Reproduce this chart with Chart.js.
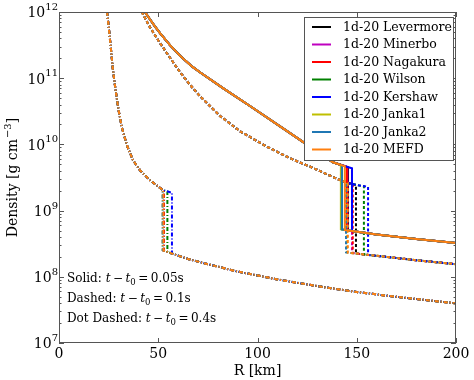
<!DOCTYPE html>
<html><head><meta charset="utf-8">
<script src="https://cdn.jsdelivr.net/npm/chart.js@4.4.1/dist/chart.umd.min.js"></script>
<style>html,body{margin:0;padding:0;background:#fff;}canvas{display:block;}</style>
</head><body>
<canvas id="c" width="474" height="380"></canvas>
<script>
// ---- data ----
const models = ['1d-20 Levermore','1d-20 Minerbo','1d-20 Nagakura','1d-20 Wilson','1d-20 Kershaw','1d-20 Janka1','1d-20 Janka2','1d-20 MEFD'];

// t - t0 = 0.05 s (solid)
const solidR   = [43.3, 45.8, 48.4, 50.9, 53.4, 55.9, 58.4, 61.0, 63.5, 67.3, 71.0, 82.6, 96.2, 116.4, 138.0, 144.1, 147.6];
const solidRho = [1.00e12, 7.76e11, 6.03e11, 4.79e11, 3.89e11, 3.16e11, 2.63e11, 2.19e11, 1.86e11, 1.48e11, 1.23e11, 7.08e10, 3.80e10, 1.48e10, 5.37e9, 4.68e9, 4.37e9];
const solidTailR   = [142.0, 147.6, 160, 180, 200];
const solidTailRho = [5.25e8, 4.90e8, 4.37e8, 3.72e8, 3.24e8];
const solidDropR      = [145.6, 145.3, 145.0, 142.5, 147.6, 142.0, 142.5, 144.0];
const solidDropTop    = [4.52e9, 4.55e9, 4.57e9, 4.84e9, 4.37e9, 4.90e9, 4.84e9, 4.68e9];
const solidDropBottom = [4.95e8, 4.98e8, 5.00e8, 5.20e8, 4.90e8, 5.25e8, 5.20e8, 5.07e8];

// t - t0 = 0.1 s (dashed)
const dashR   = [41.7, 45.8, 50.9, 55.9, 61.0, 66.0, 71.0, 81.1, 91.2, 103.8, 116.4, 129.0, 141.6, 147.6, 155.2];
const dashRho = [1.00e12, 5.89e11, 3.39e11, 2.04e11, 1.23e11, 7.94e10, 5.37e10, 2.69e10, 1.58e10, 9.55e9, 6.17e9, 4.27e9, 2.88e9, 2.51e9, 2.29e9];
const dashTailR   = [144.6, 150, 156, 165, 180, 200];
const dashTailRho = [2.34e8, 2.24e8, 2.14e8, 2.00e8, 1.78e8, 1.55e8];
const dashDropR      = [149.6, 147.6, 148.0, 153.6, 155.7, 145.0, 144.6, 145.5];
const dashDropTop    = [2.45e9, 2.51e9, 2.51e9, 2.34e9, 2.29e9, 2.69e9, 2.69e9, 2.63e9];
const dashDropBottom = [2.24e8, 2.29e8, 2.28e8, 2.19e8, 2.14e8, 2.33e8, 2.34e8, 2.32e8];

// t - t0 = 0.4 s (dot dashed)
const dotR   = [24.2, 25.2, 26.2, 27.2, 28.5, 30.0, 31.7, 34.3, 37.3, 40.8, 45.8, 52.4, 56.9];
const dotRho = [1.00e12, 5.37e11, 2.69e11, 1.32e11, 6.61e10, 3.31e10, 1.78e10, 9.55e9, 5.75e9, 4.07e9, 2.88e9, 2.04e9, 1.86e9];
const dotTailR   = [52.4, 57, 65, 75, 90, 110, 130, 150, 175, 200];
const dotTailRho = [2.51e8, 2.24e8, 1.86e8, 1.55e8, 1.20e8, 9.12e7, 7.24e7, 5.89e7, 4.79e7, 3.98e7];
const dotDropR      = [52.8, 52.6, 52.8, 54.6, 56.9, 52.2, 52.2, 52.6];
const dotDropTop    = [2.02e9, 2.03e9, 2.02e9, 1.95e9, 1.86e9, 2.05e9, 2.05e9, 2.03e9];
const dotDropBottom = [2.48e8, 2.50e8, 2.48e8, 2.36e8, 2.24e8, 2.53e8, 2.53e8, 2.50e8];

// axes
const xTicks = [0, 50, 100, 150, 200];
const xTickLabels = ['0', '50', '100', '150', '200'];
const yTickExps = [7, 8, 9, 10, 11, 12];
const yTickLabels = ['7', '8', '9', '10', '11', '12'];

// ---- styles ----
const colors = ['#000000', '#bf00bf', '#ff0000', '#008000', '#0000ff', '#bfbf00', '#1f77b4', '#ff7f0e'];
const dashes = [[], [3, 2.2], [4, 2, 1, 2]];
const FONT = "'DejaVu Serif', 'Liberation Serif', serif";

function buildSeries(R, rho, dR, top, bottom, tailR, tailRho) {
  const pts = [];
  for (let i = 0; i < R.length; i++) if (R[i] < dR) pts.push({x: R[i], y: rho[i]});
  pts.push({x: dR, y: top});
  pts.push({x: dR, y: bottom});
  for (let i = 0; i < tailR.length; i++) if (tailR[i] > dR) pts.push({x: tailR[i], y: tailRho[i]});
  return pts;
}

const datasets = [];
models.forEach((m, i) => {
  const series = [
    buildSeries(solidR, solidRho, solidDropR[i], solidDropTop[i], solidDropBottom[i], solidTailR, solidTailRho),
    buildSeries(dashR, dashRho, dashDropR[i], dashDropTop[i], dashDropBottom[i], dashTailR, dashTailRho),
    buildSeries(dotR, dotRho, dotDropR[i], dotDropTop[i], dotDropBottom[i], dotTailR, dotTailRho)
  ];
  series.forEach((pts, t) => {
    datasets.push({
      label: m + (t === 0 ? '' : t === 1 ? ' (0.1s)' : ' (0.4s)'),
      data: pts,
      borderColor: colors[i],
      backgroundColor: colors[i],
      borderWidth: 2,
      borderDash: dashes[t],
      pointRadius: 0,
      tension: 0,
      fill: false,
      order: (models.length - 1 - i) * 3 + t
    });
  });
});

function drawMath(ctx, x, y, parts) {
  let cx = x;
  parts.forEach(p => {
    ctx.font = p.f;
    ctx.fillText(p.t, cx, y + (p.dy || 0));
    cx += ctx.measureText(p.t).width + (p.sp || 0);
  });
}

const deco = {
  id: 'deco',
  afterDatasetsDraw(chart) {
    const {ctx, chartArea: a, scales: {x, y}} = chart;
    ctx.save();
    ctx.strokeStyle = '#555';
    ctx.lineWidth = 1;
    // spines
    ctx.strokeRect(a.left + 0.5, a.top + 0.5, a.right - a.left - 1, a.bottom - a.top - 1);
    // x ticks
    ctx.beginPath();
    xTicks.forEach(v => {
      const px = Math.round(x.getPixelForValue(v)) + 0.5;
      ctx.moveTo(px, a.bottom); ctx.lineTo(px, a.bottom - 5);
      ctx.moveTo(px, a.top); ctx.lineTo(px, a.top + 5);
    });
    // y ticks major/minor
    yTickExps.forEach((e, k) => {
      const py = Math.round(y.getPixelForValue(Math.pow(10, e))) + 0.5;
      ctx.moveTo(a.left, py); ctx.lineTo(a.left + 5, py);
      ctx.moveTo(a.right, py); ctx.lineTo(a.right - 5, py);
      if (k < yTickExps.length - 1) {
        for (let m = 2; m <= 9; m++) {
          const pm = Math.round(y.getPixelForValue(m * Math.pow(10, e))) + 0.5;
          ctx.moveTo(a.left, pm); ctx.lineTo(a.left + 2.5, pm);
          ctx.moveTo(a.right, pm); ctx.lineTo(a.right - 2.5, pm);
        }
      }
    });
    ctx.stroke();

    ctx.fillStyle = '#000';
    // x tick labels
    ctx.font = '14px ' + FONT;
    ctx.textAlign = 'center';
    ctx.textBaseline = 'alphabetic';
    xTicks.forEach((v, k) => ctx.fillText(xTickLabels[k], x.getPixelForValue(v), a.bottom + 14.5));
    // y tick labels 10^n
    ctx.textAlign = 'left';
    yTickExps.forEach((e, k) => {
      const py = y.getPixelForValue(Math.pow(10, e));
      ctx.font = '10px ' + FONT;
      const we = ctx.measureText(yTickLabels[k]).width;
      ctx.font = '14px ' + FONT;
      const wb = ctx.measureText('10').width;
      const x0 = a.left - 1 - we - wb;
      ctx.fillText('10', x0, py + 5.3);
      ctx.font = '10px ' + FONT;
      ctx.fillText(yTickLabels[k], x0 + wb, py - 2);
    });
    // axis titles
    ctx.font = '14px ' + FONT;
    ctx.textAlign = 'center';
    ctx.fillText('R [km]', (a.left + a.right) / 2, 375);
    ctx.save();
    ctx.translate(17, (a.top + a.bottom) / 2);
    ctx.rotate(-Math.PI / 2);
    ctx.textAlign = 'left';
    const t1 = 'Density [g cm', t3 = ']';
    ctx.font = '10px ' + FONT;
    const w2 = ctx.measureText('\u22123').width;
    ctx.font = '14px ' + FONT;
    const w1 = ctx.measureText(t1).width, w3 = ctx.measureText(t3).width;
    let sx = -(w1 + w2 + w3 + 1) / 2;
    ctx.fillText(t1, sx, 0);
    ctx.font = '10px ' + FONT;
    ctx.fillText('\u22123', sx + w1 + 1, -6);
    ctx.font = '14px ' + FONT;
    ctx.fillText(t3, sx + w1 + 1 + w2, 0);
    ctx.restore();

    // annotations
    const reg = '12px ' + FONT, it = 'italic 12px ' + FONT, sub = '8.5px ' + FONT;
    const notes = [['Solid: ', '0.05'], ['Dashed: ', '0.1'], ['Dot Dashed: ', '0.4']];
    const baseY = [282, 302, 322];
    ctx.textAlign = 'left';
    notes.forEach((n, k) => {
      drawMath(ctx, 67, baseY[k], [
        {t: n[0], f: reg}, {t: 't', f: it, sp: 2.5}, {t: '\u2212', f: reg, sp: 2.5},
        {t: 't', f: it}, {t: '0', f: sub, dy: 3, sp: 2.5}, {t: '=', f: reg, sp: 2.5},
        {t: n[1], f: reg}, {t: 's', f: reg}
      ]);
    });

    // legend
    const lx = 304, ly = 17, lw = 149, lh = 143;
    ctx.fillStyle = '#fff';
    ctx.fillRect(lx, ly, lw, lh);
    ctx.strokeStyle = '#555';
    ctx.lineWidth = 1;
    ctx.strokeRect(lx + 0.5, ly + 0.5, lw, lh);
    ctx.font = '12.5px ' + FONT;
    ctx.textBaseline = 'middle';
    models.forEach((m, i) => {
      const yy = 27 + 17.5 * i;
      ctx.strokeStyle = colors[i];
      ctx.lineWidth = 2;
      ctx.beginPath(); ctx.moveTo(312, yy); ctx.lineTo(331, yy); ctx.stroke();
      ctx.fillStyle = '#000';
      ctx.fillText(m, 343, yy + 0.5);
    });
    ctx.restore();
  }
};

new Chart(document.getElementById('c'), {
  type: 'line',
  data: {datasets},
  options: {
    responsive: false,
    animation: false,
    events: [],
    layout: {padding: {left: 59, right: 18, top: 12, bottom: 37}},
    plugins: {legend: {display: false}, tooltip: {enabled: false}},
    scales: {
      x: {type: 'linear', min: 0, max: 200, display: false},
      y: {type: 'logarithmic', min: 1e7, max: 1e12, display: false}
    }
  },
  plugins: [deco]
});
</script>
</body></html>
